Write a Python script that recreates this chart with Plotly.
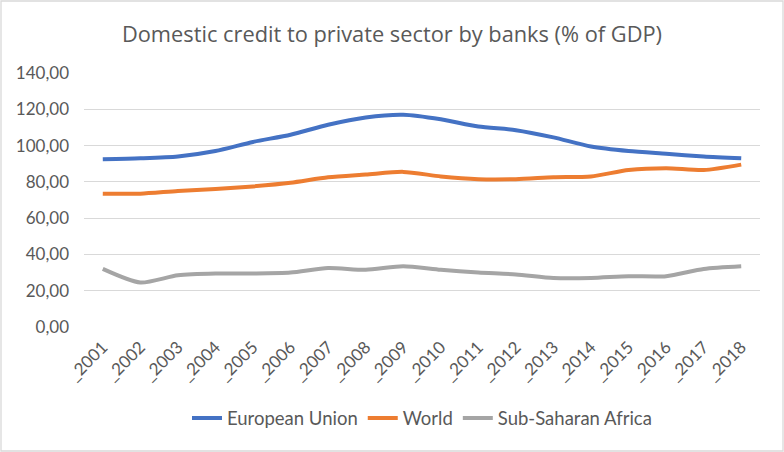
import plotly.graph_objects as go

years = ["_2001", "_2002", "_2003", "_2004", "_2005", "_2006", "_2007", "_2008", "_2009",
         "_2010", "_2011", "_2012", "_2013", "_2014", "_2015", "_2016", "_2017", "_2018"]
eu = [92.5, 93.0, 94.0, 97.0, 102.0, 106.0, 111.5, 115.5, 117.0,
      114.5, 110.5, 108.5, 104.5, 99.5, 97.0, 95.5, 94.0, 93.0]
world = [73.5, 73.5, 75.0, 76.0, 77.5, 79.5, 82.5, 84.0, 85.5,
         83.0, 81.5, 81.5, 82.5, 83.0, 86.5, 87.5, 86.5, 89.5]
ssa = [32.0, 24.5, 28.5, 29.5, 29.5, 30.0, 32.5, 31.5, 33.5,
       31.5, 30.0, 29.0, 27.0, 27.0, 28.0, 28.0, 32.0, 33.5]

font = "Lato, sans-serif"
fig = go.Figure()
for name, vals, col in [("European Union", eu, "#4472C4"), ("World", world, "#ED7D31"),
                        ("Sub-Saharan Africa", ssa, "#A5A5A5")]:
    fig.add_trace(go.Scatter(x=years, y=vals, name=name, mode="lines",
                             line=dict(color=col, width=4, shape="spline", smoothing=0.7)))

fig.update_layout(
    width=784, height=452,
    margin=dict(l=84, r=24, t=73, b=125),
    paper_bgcolor="white", plot_bgcolor="white",
    separators=",.",
    font=dict(family=font, color="#595959", size=17),
    title=dict(text="Domestic credit to private sector by banks (% of GDP)",
               x=0.5, xanchor="center", y=0.925, yanchor="middle",
               font=dict(size=21.8, color="#595959", family="Open Sans, sans-serif")),
    legend=dict(orientation="h", x=0.5, xanchor="center", y=-0.36, yanchor="middle",
                font=dict(size=18.5, color="#595959"), tracegroupgap=0),
    showlegend=True,
)
fig.update_xaxes(type="category", range=[-0.5, 17.5], tickangle=-45, showgrid=False,
                 showline=False, ticks="", ticklabelstandoff=6,
                 tickfont=dict(size=17, color="#595959"))
fig.update_yaxes(range=[0, 140], dtick=20, tickformat=".2f", showgrid=True,
                 gridcolor="#D9D9D9", gridwidth=1.3, zeroline=False, showline=False,
                 ticks="", ticklabelstandoff=14, tickfont=dict(size=17, color="#595959"))
fig.add_shape(type="rect", xref="paper", yref="paper",
              x0=(1 - 84) / 676, x1=(783 - 84) / 676, y0=(327 - 451) / 254, y1=(327 - 1) / 254,
              line=dict(color="#D9D9D9", width=1.3), fillcolor="rgba(0,0,0,0)", layer="below")
fig.write_html("out.html")
